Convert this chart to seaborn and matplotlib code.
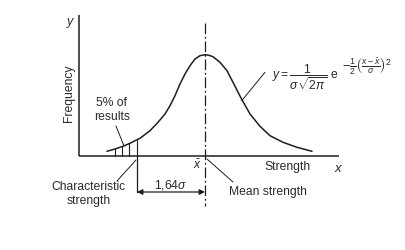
import numpy as np
import matplotlib
matplotlib.use("Agg")
import matplotlib.pyplot as plt
import seaborn as sns

# --- data (strength / frequency in drawing units) ---
strength = [28, 36, 44, 51, 58, 61, 71, 79, 86, 91, 96, 101, 106, 111, 116,
            121, 126, 130, 134, 141, 148, 154, 162, 171, 181, 191, 204, 218,
            233]
frequency = [4.7, 7, 9.7, 12.7, 16.3, 17.7, 25.3, 33.7, 42, 50.3, 60.3, 72,
             82, 90.3, 97, 100.3, 101.3, 100.7, 99.3, 93.7, 85.3, 73.7, 58,
             42, 29.7, 20.3, 13.7, 8.7, 4.7]
mean_strength = 126
characteristic_strength = 58
hatch_positions = [36, 43, 50, 58]
arrow_label = r"1,64$\sigma$"
formula_main = r"$y = \dfrac{1}{\sigma\sqrt{2\pi}}\ \mathrm{e}$"
formula_exp = r"$-\frac{1}{2}\left(\frac{x-\bar{x}}{\sigma}\right)^2$"

sns.set_theme(style="white")
plt.rcParams["font.family"] = ["Liberation Sans", "DejaVu Sans"]
plt.rcParams["mathtext.fontset"] = "custom"
plt.rcParams["mathtext.rm"] = "Liberation Sans"
plt.rcParams["mathtext.it"] = "Liberation Sans:italic"
plt.rcParams["mathtext.bf"] = "Liberation Sans:bold"

LC = "#1e1e1e"
TC = "#2a2a2a"
FS = 8.7

fig = plt.figure(figsize=(4.05, 2.51), dpi=100)
ax = fig.add_axes([0, 0, 1, 1])
ax.set_xlim(-79, 326)
ax.set_ylim(-94, 157)
ax.axis("off")

# axes of the diagram
ax.plot([0, 0], [0, 141], color=LC, lw=1.1, solid_capstyle="butt")
ax.plot([0, 260], [0, 0], color=LC, lw=1.1, solid_capstyle="butt")

# the distribution curve
sns.lineplot(x=strength, y=frequency, ax=ax, color=LC, lw=1.1, sort=False,
             estimator=None)

# hatching of the lower 5% tail
for hx in hatch_positions:
    ax.plot([hx, hx], [0, np.interp(hx, strength, frequency)], color=LC, lw=0.8)

# mean line (dash-dot)
ax.plot([mean_strength, mean_strength], [133, -50], color=LC, lw=0.9,
        linestyle=(0, (8.5, 2.2, 1.5, 2.2)))

# characteristic strength drop line and 1.64 sigma arrow
ax.plot([characteristic_strength, characteristic_strength], [0, -36],
        color=LC, lw=0.9)
ax.annotate("", xy=(characteristic_strength, -36), xytext=(mean_strength, -36),
            arrowprops=dict(arrowstyle="<|-|>", color=LC, lw=0.9,
                            mutation_scale=8, shrinkA=0, shrinkB=0))
ax.text((characteristic_strength + mean_strength) / 2, -28, arrow_label,
        ha="center", va="center", fontsize=FS, color=TC)

# leader lines
ax.plot([37, 45], [30, 10], color=LC, lw=0.7)
ax.plot([57, 38], [-4, -25], color=LC, lw=0.7)
ax.plot([128, 154], [-3, -26], color=LC, lw=0.7)
ax.plot([162.7, 186], [55.3, 83.7], color=LC, lw=0.7)

# texts
ax.text(-9, 135, "y", ha="center", va="center", fontsize=9, style="italic",
        color=TC)
ax.text(-10, 63.5, "Frequency", ha="center", va="center", rotation=90,
        fontsize=FS, color=TC)
ax.text(33, 47, "5% of\nresults", ha="center", va="center", fontsize=FS,
        color=TC, linespacing=1.15)
ax.text(9.5, -37, "Characteristic\nstrength", ha="center", va="center",
        fontsize=FS, color=TC, linespacing=1.15)
ax.text(118.5, -8, r"$\bar{x}$", ha="center", va="center", fontsize=FS,
        color=TC)
ax.text(188.5, -35, "Mean strength", ha="center", va="center", fontsize=FS,
        color=TC)
ax.text(208, -10, "Strength", ha="center", va="center", fontsize=FS, color=TC)
ax.text(259, -12, "x", ha="center", va="center", fontsize=9.5,
        style="italic", color=TC)
ax.text(193, 80, formula_main, ha="left", va="center", fontsize=FS, color=TC)
ax.text(263, 90, formula_exp, ha="left", va="center", fontsize=9, color=TC)

fig.savefig("out.png", dpi=100, facecolor="white")
